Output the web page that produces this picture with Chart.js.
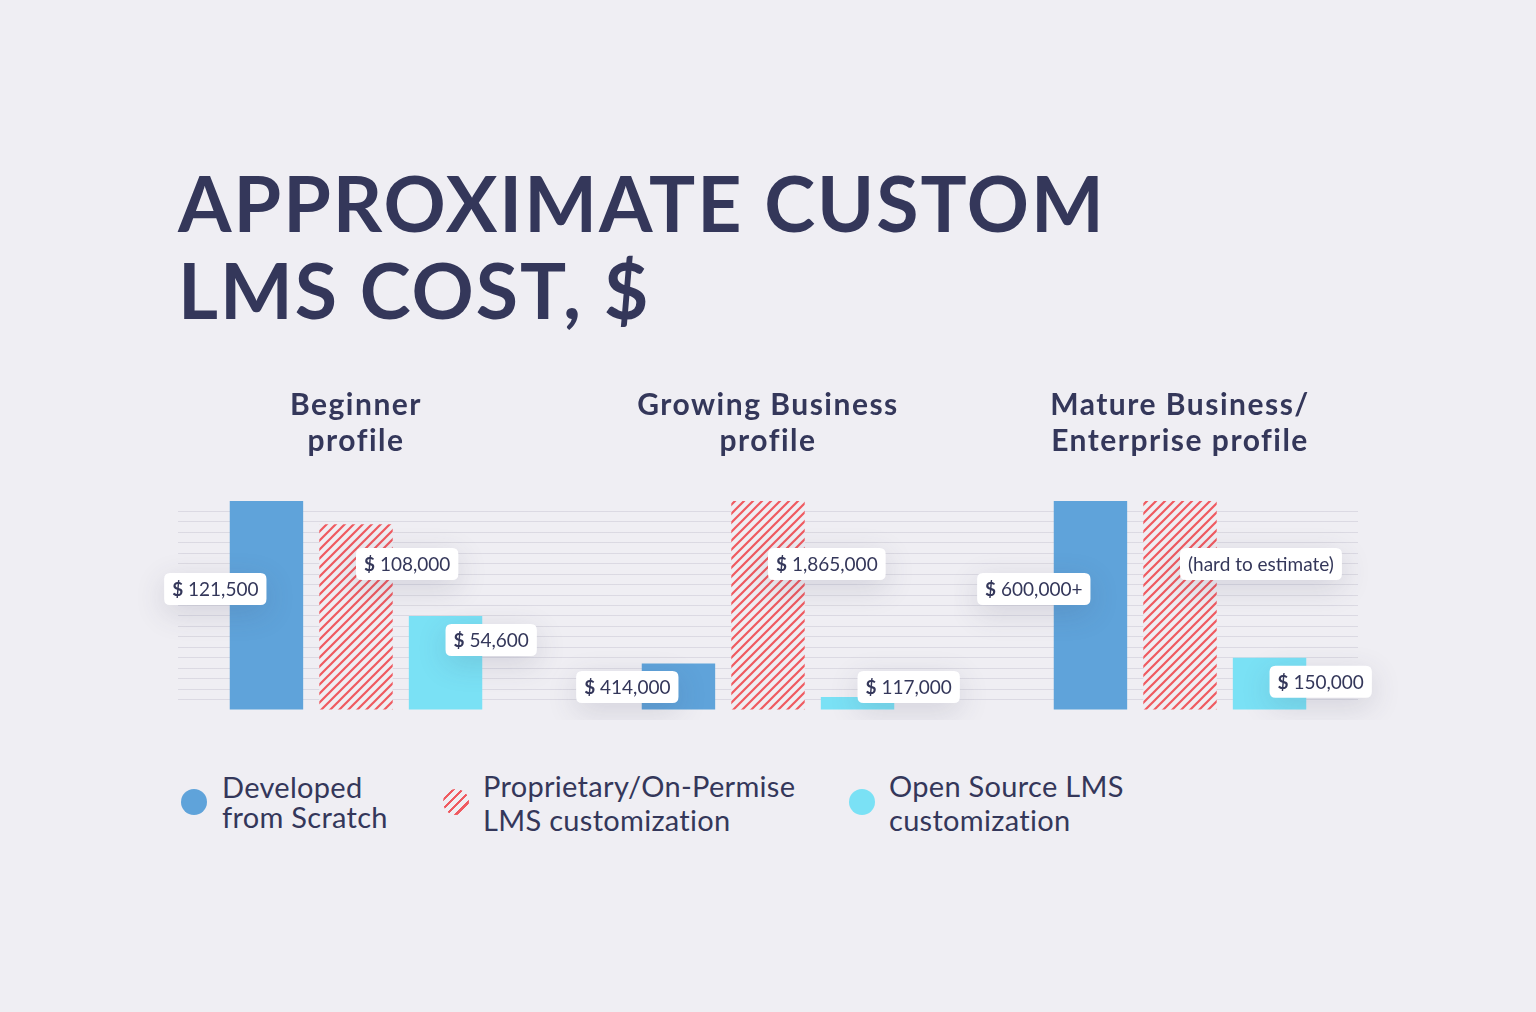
<!DOCTYPE html>
<html>
<head>
<meta charset="utf-8">
<script src="https://cdn.jsdelivr.net/npm/chart.js@4"></script>
<style>
  html, body { margin: 0; padding: 0; }
  body {
    width: 1536px; height: 1012px; overflow: hidden; position: relative;
    background: #efeef3; font-family: Lato, "Noto Sans", sans-serif; color: #34375a;
  }
  h1 {
    position: absolute; left: 178px; top: 159px; margin: 0;
    font-size: 77px; line-height: 87px; font-weight: 700; letter-spacing: 2px;
  }
  canvas.group { position: absolute; top: 370px; }
  .legend-item { position: absolute; font-size: 29px; letter-spacing: 0.3px; white-space: nowrap; }
  .legend-item .dot {
    position: absolute; width: 26px; height: 26px; border-radius: 50%;
  }
</style>
</head>
<body>
<h1>APPROXIMATE CUSTOM<br>LMS COST, $</h1>

<canvas class="group" id="group0" width="452" height="350"></canvas>
<canvas class="group" id="group1" width="452" height="350"></canvas>
<canvas class="group" id="group2" width="452" height="350"></canvas>

<div id="legend"></div>

<script>
// profiles, each drawn on its own scale
const groups = [['Beginner', 'profile'], ['Growing Business', 'profile'], ['Mature Business/', 'Enterprise profile']];
const series = [['Developed', 'from Scratch'], ['Proprietary/On-Permise', 'LMS customization'], ['Open Source LMS', 'customization']];

const developed = [121500, 414000, 600000];
const proprietary = [108000, 1865000, 600000]; // mature one is "hard to estimate", drawn full height
const openSource = [54600, 117000, 150000];

const developedLabels = ['$ 121,500', '$ 414,000', '$ 600,000+'];
const proprietaryLabels = ['$ 108,000', '$ 1,865,000', '(hard to estimate)'];
const openSourceLabels = ['$ 54,600', '$ 117,000', '$ 150,000'];

const valueSets = [developed, proprietary, openSource];
const labelSets = [developedLabels, proprietaryLabels, openSourceLabels];

const navy = '#34375a';
const blue = '#5fa3da';
const cyan = '#7ae1f5';
const red = '#ef5a60';
const bg = '#efeef3';
const groupCenters = [356, 768, 1180];
const gridInsets = [[28, 0], [0, 0], [0, 28]];
const labelLevels = [0.579, 0.699, 0.383];

function makeHatch() {
    const size = 9;
    const c = document.createElement('canvas');
    c.width = size;
    c.height = size;
    const x = c.getContext('2d');
    x.fillStyle = bg;
    x.fillRect(0, 0, size, size);
    x.strokeStyle = red;
    x.lineWidth = 2.2;
    x.beginPath();
    x.moveTo(0, size); x.lineTo(size, 0);
    x.moveTo(-2, 2); x.lineTo(2, -2);
    x.moveTo(size - 2, size + 2); x.lineTo(size + 2, size - 2);
    x.stroke();
    return x.createPattern(c, 'repeat');
}

const hatch = makeHatch();
const fills = [blue, hatch, cyan];

function roundRect(ctx, x, y, w, h, r) {
    ctx.beginPath();
    ctx.moveTo(x + r, y);
    ctx.lineTo(x + w - r, y);
    ctx.quadraticCurveTo(x + w, y, x + w, y + r);
    ctx.lineTo(x + w, y + h - r);
    ctx.quadraticCurveTo(x + w, y + h, x + w - r, y + h);
    ctx.lineTo(x + r, y + h);
    ctx.quadraticCurveTo(x, y + h, x, y + h - r);
    ctx.lineTo(x, y + r);
    ctx.quadraticCurveTo(x, y, x + r, y);
    ctx.closePath();
}

// white pill labels next to the bars
const valueLabels = {
    id: 'valueLabels',
    beforeDraw(chart) {
        // a little tracking for the profile titles
        chart.ctx.letterSpacing = '1.5px';
    },
    beforeDatasetsDraw(chart) {
        chart.ctx.letterSpacing = '0px';
    },
    afterDatasetsDraw(chart, args, opts) {
        const ctx = chart.ctx;
        const area = chart.chartArea;
        const g = opts.group;
        const boldFont = '700 19px Lato, "Noto Sans", sans-serif';
        const font = '400 19px Lato, "Noto Sans", sans-serif';
        chart.data.datasets.forEach((ds, i) => {
            const bar = chart.getDatasetMeta(i).data[0];
            const text = labelSets[i][g];
            let head = '';
            let rest = text;
            if (text.startsWith('$')) {
                head = '$';
                rest = text.slice(1);
            }
            ctx.save();
            ctx.font = boldFont;
            const headW = head ? ctx.measureText(head).width : 0;
            ctx.font = font;
            const restW = ctx.measureText(rest).width;
            const w = headW + restW + 16;
            const h = 32;
            const bottom = area.bottom;
            const level = bottom - labelLevels[i] * (area.bottom - area.top);
            const cy = Math.min(bottom - 23, Math.max(bar.y + 24, level));
            const left = i === 0 ? bar.x - w : bar.x;

            ctx.shadowColor = 'rgba(60, 60, 95, 0.16)';
            ctx.shadowBlur = 30;
            ctx.shadowOffsetY = 8;
            ctx.fillStyle = '#ffffff';
            roundRect(ctx, left, cy - h / 2, w, h, 6);
            ctx.fill();
            ctx.shadowColor = 'transparent';

            ctx.fillStyle = navy;
            ctx.textBaseline = 'middle';
            ctx.textAlign = 'left';
            if (head) {
                ctx.font = boldFont;
                ctx.fillText(head, left + 8, cy + 1);
            }
            ctx.font = font;
            ctx.fillText(rest, left + 8 + headW, cy + 1);
            ctx.restore();
        });
    }
};

function gridColor(g) {
    return (c) => {
        const chart = c.chart;
        const max = chart.scales.y.max;
        if (!c.tick || c.tick.value <= 0 || c.tick.value >= max) return 'rgba(0,0,0,0)';
        const area = chart.chartArea;
        if (!area) return 'rgba(0,0,0,0)';
        const [inL, inR] = gridInsets[g];
        const grad = chart.ctx.createLinearGradient(area.left, 0, area.right, 0);
        const line = 'rgba(205, 204, 216, 0.6)';
        const a = inL / (area.right - area.left);
        const b = 1 - inR / (area.right - area.left);
        grad.addColorStop(0, inL ? 'rgba(0,0,0,0)' : line);
        grad.addColorStop(a, inL ? 'rgba(0,0,0,0)' : line);
        grad.addColorStop(Math.min(1, a + 0.0001), line);
        grad.addColorStop(Math.max(0, b - 0.0001), line);
        grad.addColorStop(b, inR ? 'rgba(0,0,0,0)' : line);
        grad.addColorStop(1, inR ? 'rgba(0,0,0,0)' : line);
        return grad;
    };
}

groups.forEach((title, g) => {
    const canvas = document.getElementById('group' + g);
    canvas.style.left = (groupCenters[g] - 226) + 'px';
    const max = Math.max(developed[g], proprietary[g], openSource[g]);

    new Chart(canvas.getContext('2d'), {
        type: 'bar',
        data: {
            labels: [title.join(' ')],
            datasets: series.map((name, i) => ({
                label: name.join(' '),
                data: [valueSets[i][g]],
                backgroundColor: fills[i],
                borderWidth: 0,
                categoryPercentage: 0.652,
                barPercentage: 0.82
            }))
        },
        options: {
            responsive: false,
            animation: false,
            layout: { padding: { left: 20, right: 20, bottom: 10 } },
            plugins: {
                legend: { display: false },
                tooltip: { enabled: false },
                title: {
                    display: true,
                    text: title,
                    color: navy,
                    font: { family: 'Lato, "Noto Sans", sans-serif', size: 30, weight: '700', lineHeight: 1.2 },
                    padding: { top: 17, bottom: 42 }
                },
                valueLabels: { group: g }
            },
            scales: {
                x: { display: false },
                y: {
                    min: 0,
                    max: max,
                    ticks: { display: false, stepSize: max / 20 },
                    grid: { color: gridColor(g), drawTicks: false, lineWidth: 1 },
                    border: { display: false }
                }
            }
        },
        plugins: [valueLabels]
    });
});

// legend, built from the series names
const legendPos = [
    { dot: [194, 802], text: [222, 772], lh: 30 },
    { dot: [456, 802], text: [483, 769], lh: 34 },
    { dot: [862, 802], text: [889, 769], lh: 34 }
];
const legend = document.getElementById('legend');
series.forEach((name, i) => {
    const p = legendPos[i];
    const dot = document.createElement('div');
    dot.className = 'legend-item';
    dot.innerHTML = '<div class="dot"></div>';
    const d = dot.firstChild;
    d.style.left = (p.dot[0] - 13) + 'px';
    d.style.top = (p.dot[1] - 13) + 'px';
    if (i === 1) {
        d.style.background = 'repeating-linear-gradient(135deg, ' + red + ' 0 2.4px, transparent 2.4px 6.5px)';
    } else {
        d.style.background = i === 0 ? blue : cyan;
    }
    legend.appendChild(dot);

    const t = document.createElement('div');
    t.className = 'legend-item';
    t.style.left = p.text[0] + 'px';
    t.style.top = p.text[1] + 'px';
    t.style.lineHeight = p.lh + 'px';
    t.innerHTML = name.join('<br>');
    legend.appendChild(t);
});
</script>
</body>
</html>
